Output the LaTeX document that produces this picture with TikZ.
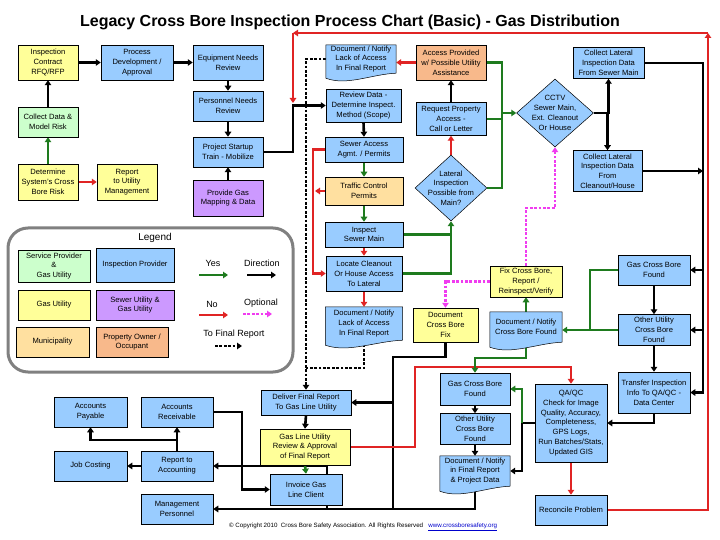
\documentclass[tikz,border=0pt]{standalone}
\usepackage{fontspec}
\setmainfont{Liberation Sans}
\usetikzlibrary{arrows.meta,shapes.geometric,calc}
\definecolor{cblue}{HTML}{99CCFF}
\definecolor{cyellow}{HTML}{FFFF99}
\definecolor{cgreen}{HTML}{CCFFCC}
\definecolor{cpurple}{HTML}{CC99FF}
\definecolor{clorange}{HTML}{FFE0A0}
\definecolor{csalmon}{HTML}{F8B98B}
\definecolor{cdgreen}{HTML}{1E7B1E}
\definecolor{cred}{HTML}{E02424}
\definecolor{cmag}{HTML}{F03CF0}
\definecolor{cgray}{HTML}{808080}
\definecolor{clink}{HTML}{0000CC}
\pgfdeclarelayer{bgl}
\pgfdeclarelayer{docl}
\pgfsetlayers{bgl,docl,main}
\newcommand\boxfnt{\fontsize{7.6}{9.8}\selectfont}
\newcommand\docshp[1]{\begin{pgfonlayer}{docl}\draw[fill=cblue, line width=0.5pt] (#1.north west) -- (#1.north east) -- (#1.south east) .. controls ($(#1.south east)!0.35!(#1.south west)+(0,1)$) and ($(#1.south east)!0.7!(#1.south west)+(0,13)$) .. ($(#1.south west)+(0,5)$) -- cycle;\end{pgfonlayer}}
\begin{document}
\begin{tikzpicture}[x=1pt,y=-1pt,
  bx/.style={draw=black, line width=0.5pt, inner sep=0.5pt, align=center, font=\boxfnt, text=black},
  bl/.style={bx, fill=cblue},
  yl/.style={bx, fill=cyellow},
  gr/.style={bx, fill=cgreen},
  pu/.style={bx, fill=cpurple},
  lo/.style={bx, fill=clorange},
  sa/.style={bx, fill=csalmon},
  sz/.style 2 args={minimum width=#1pt, minimum height=#2pt},
  dm/.style={diamond, draw=black, line width=0.5pt, fill=cblue, inner sep=0pt},
  dtx/.style={inner sep=0.5pt, align=center, font=\boxfnt},
  ln/.style={line width=2.6pt},
  con/.style={ln, -{Triangle[length=5pt,width=6.5pt]}},
  blk/.style={con, draw=black},
  blkl/.style={ln, draw=black},
  yes/.style={con, draw=cdgreen, -{Triangle[length=5pt,width=6.5pt,fill=cdgreen]}},
  yesl/.style={ln, draw=cdgreen},
  no/.style={con, draw=cred},
  nol/.style={ln, draw=cred},
  fin/.style={con, draw=black, dash pattern=on 2.8pt off 1.6pt},
  finl/.style={ln, draw=black, dash pattern=on 2.8pt off 1.6pt},
  opt/.style={con, draw=cmag, dash pattern=on 2.8pt off 1.6pt},
  lgt/.style={font=\fontsize{9}{11}\selectfont, inner sep=0pt}
]
\useasboundingbox (0,0) rectangle (720,540);
\begin{pgfonlayer}{bgl}
\fill[white] (0,0) rectangle (720,540);
\end{pgfonlayer}

% title
\node[font=\fontsize{16}{18}\selectfont\bfseries] (title) at (350,22) {Legacy Cross Bore Inspection Process Chart (Basic) - Gas Distribution};

% column 1-2
\node[yl, sz={60}{35}] (rfq) at (48,62.5) {Inspection\\Contract\\RFQ/RFP};
\node[bl, sz={72}{35}] (procdev) at (137,62.5) {Process\\Development /\\Approval};
\node[bl, sz={70}{35}] (equip) at (228,62.5) {Equipment Needs\\Review};
\node[gr, sz={60}{30}] (collect) at (48,122) {Collect Data \&\\Model Risk};
\node[bl, sz={70}{30}] (personnel) at (228,106) {Personnel Needs\\Review};
\node[bl, sz={70}{30}] (startup) at (228,152) {Project Startup\\Train - Mobilize};
\node[pu, sz={70}{36}] (mapping) at (228,198) {Provide Gas\\Mapping \& Data};
\node[yl, sz={60}{36}] (determine) at (48,182) {Determine\\System's Cross\\Bore Risk};
\node[yl, sz={60}{36}] (report) at (127,182) {Report\\to Utility\\Management};

% column 3
\node[dtx, sz={70}{28}] (doc1) at (361,59) {Document / Notify\\Lack of Access\\In Final Report};
\docshp{doc1}
\node[bl, sz={75}{33}] (review) at (363.5,105.5) {Review Data -\\Determine Inspect.\\Method (Scope)};
\node[bl, sz={78}{25}] (sewer) at (364,149.5) {Sewer Access\\Agmt. / Permits};
\node[lo, sz={78}{28}] (traffic) at (364,191) {Traffic Control\\Permits};
\node[bl, sz={78}{25}] (inspect) at (364,234.5) {Inspect\\Sewer Main};
\node[bl, sz={76}{35}] (locate) at (364,273.5) {Locate Cleanout\\Or House Access\\To Lateral};
\node[dtx, sz={77}{33}] (doc2) at (364,323.5) {Document / Notify\\Lack of Access\\In Final Report};
\docshp{doc2}

% column 4
\node[sa, sz={70}{35}] (access) at (451,62.5) {Access Provided\\w/ Possible Utility\\Assistance};
\node[bl, sz={70}{33}] (request) at (451,119) {Request Property\\Access -\\Call or Letter};
\node[dm, sz={72}{66}] (lateral) at (451,188) {};
\node[dtx] (lateralt) at (451,188) {Lateral\\Inspection\\Possible from\\Main?};
\node[yl, sz={65}{34}] (fix2) at (445.5,325) {Document\\Cross Bore\\Fix};

% column 5
\node[dm, sz={77}{68}] (cctv) at (555,113) {};
\node[dtx] (cctvt) at (555,113) {CCTV\\Sewer Main,\\Ext. Cleanout\\Or House};
\node[yl, sz={72}{31}] (fix) at (526,281.5) {Fix Cross Bore,\\Report /\\Reinspect/Verify};
\node[dtx, sz={72}{30}] (doccb) at (526,327) {Document / Notify\\Cross Bore Found};
\docshp{doccb}
\node[bl, sz={70}{32}] (lgcb) at (475,389) {Gas Cross Bore\\Found};
\node[bl, sz={70}{31}] (louc) at (475,429) {Other Utility\\Cross Bore\\Found};
\node[dtx, sz={70}{30}] (docfinal) at (475,471) {Document / Notify\\in Final Report\\\& Project Data};
\docshp{docfinal}
\node[bl, sz={72}{78}] (qaqc) at (571,423) {QA/QC\\Check for Image\\Quality, Accuracy,\\Completeness,\\GPS Logs,\\Run Batches/Stats,\\Updated GIS};
\node[bl, sz={72}{30}] (reconcile) at (571,510) {Reconcile Problem};

% column 6
\node[bl, sz={71}{31}] (colsm) at (608.5,63) {Collect Lateral\\Inspection Data\\From Sewer Main};
\node[bl, sz={69}{41}] (colch) at (607.5,171) {Collect Lateral\\Inspection Data\\From\\Cleanout/House};
\node[bl, sz={72}{30}] (gcb) at (654,270) {Gas Cross Bore\\Found};
\node[bl, sz={72}{31}] (ouc) at (654,330) {Other Utility\\Cross Bore\\Found};
\node[bl, sz={72}{41}] (transfer) at (654,392.5) {Transfer Inspection\\Info To QA/QC -\\Data Center};

% bottom left
\node[bl, sz={73}{30}] (ap) at (90.5,412) {Accounts\\Payable};
\node[bl, sz={72}{30}] (ar) at (177,412) {Accounts\\Receivable};
\node[bl, sz={73}{30}] (jc) at (90.5,466) {Job Costing};
\node[bl, sz={72}{30}] (rta) at (177,466) {Report to\\Accounting};
\node[bl, sz={72}{30}] (mp) at (177,509) {Management\\Personnel};
\node[bl, sz={90}{25}] (deliver) at (306,402.5) {Deliver Final Report\\To Gas Line Utility};
\node[yl, sz={90}{36}] (review2) at (305,447) {Gas Line Utility\\Review \& Approval\\of Final Report};
\node[bl, sz={72}{31}] (invoice) at (306,489.5) {Invoice Gas\\Line Client};

% legend
\draw[cgray, line width=3pt, rounded corners=20pt] (8,228) rectangle (293,372);
\node[font=\fontsize{10}{12}\selectfont] (legt) at (155,238) {Legend};
\node[gr, sz={72}{32}] (lg1) at (54,266) {Service Provider\\\&\\Gas Utility};
\node[bl, sz={78}{34}] (lg2) at (135,265) {Inspection Provider};
\node[yl, sz={72}{30}] (lg3) at (54,305) {Gas Utility};
\node[pu, sz={78}{30}] (lg4) at (135,305) {Sewer Utility \&\\Gas Utility};
\node[lo, sz={73}{30}] (lg5) at (52.5,342) {Municipality};
\node[sa, sz={72}{30}] (lg6) at (132,342) {Property Owner /\\Occupant};
\node[lgt] (lyes) at (213,263) {Yes};
\node[lgt] (ldir) at (262,263) {Direction};
\node[lgt] (lno) at (212,304) {No};
\node[lgt] (lopt) at (261,303) {Optional};
\node[lgt] (lfin) at (234,334) {To Final Report};
\coordinate (ly1) at (199,275); \coordinate (ly2) at (228,275);
\coordinate (ld1) at (247,275); \coordinate (ld2) at (276,275);
\coordinate (ln1) at (199,315); \coordinate (ln2) at (228,315);
\coordinate (lo1) at (243,314); \coordinate (lo2) at (272,314);
\coordinate (lf1) at (215,346); \coordinate (lf2) at (242,346);
\draw[yes] (ly1) -- (ly2);
\draw[blk] (ld1) -- (ld2);
\draw[no] (ln1) -- (ln2);
\draw[opt] (lo1) -- (lo2);
\draw[fin] (lf1) -- (lf2);

% copyright
\node[font=\fontsize{6.2}{7}\selectfont, anchor=west, inner sep=0pt] (copy) at (229,527) {\textcopyright\ Copyright 2010 \ Cross Bore Safety Association. All Rights Reserved \ \ \textcolor{clink}{\underline{www.crossboresafety.org}}};

% connectors
\begin{pgfonlayer}{bgl}
% black
\draw[blk] (rfq.east) -- (procdev.west);
\draw[blk] (procdev.east) -- (equip.west);
\draw[blk] (collect.north) -- (rfq.south);
\draw[blk] (equip.south) -- (personnel.north);
\draw[blk] (personnel.south) -- (startup.north);
\draw[blk] (mapping.north) -- (startup.south);
\draw[blk] (startup.east) -- (293,152) -- (293,105.5) -- (review.west);
\draw[blk] (review.south) -- (sewer.north);
\draw[blk] (request.north) -- (access.south);
\draw[blk] (cctv.east) -| (colsm.south);
\draw[blk] (cctv.east) -| (colch.north);
\draw[blk] (colsm.east) -- (703,63) -- (703,392.5) -- (transfer.east);
\draw[blk] (703,270) -- (gcb.east);
\draw[blk] (703,330) -- (ouc.east);
\draw[blk] (colch.east) -- (703,171);
\draw[blk] (gcb.south) -- (ouc.north);
\draw[blk] (ouc.south) -- (transfer.north);
\draw[blk] (transfer.south) -- (654,423) -- (qaqc.east);
\draw[blk] (qaqc.west) -- (522,423) -- (522,471) -- (docfinal.east);
\draw[blk] (lgcb.south) -- (louc.north);
\draw[blk] (louc.south) -- (docfinal.north);
\draw[blk] (docfinal.south) |- (mp.east);
\draw[blkl] (fix2.south) -- (445.5,357) -- (393,357) -- (393,509);
\draw[blk] (393,402.5) -- (deliver.east);
\draw[blk] (deliver.south) -- (review2.north);
\draw[blk] (327,509) -- (327,466) -- (rta.east);
\draw[blk] (ar.east) -- (242,412) -- (242,489.5) -- (invoice.west);
\draw[blk] (rta.north) -- (ar.south);
\draw[blk] (177,440) -| (ap.south);
\draw[blk] (rta.west) -- (jc.east);
% dotted to final report
\draw[fin] (doc1.west) -| (deliver.north);
\draw[finl] (doc2.south) -- (364,368) -- (306,368);
% red
\draw[no] (determine.east) -- (report.west);
\draw[no] (inspect.south) -- (locate.north);
\draw[no] (locate.south) -- (doc2.north);
\draw[no] (sewer.west) -- (313,149.5) -- (313,273.5) -- (locate.west);
\draw[no] (traffic.west) -- (315,191);
\draw[no] (lateral.north) -- (request.south);
\draw[no] (access.west) -- (access.west -| doc1.east);
\draw[no] (review2.east) -- (415,447) -- (415,367) -- (571,367) -- (qaqc.north);
\draw[no] (qaqc.south) -- (reconcile.north);
\draw[no] (reconcile.east) -- (708,510) -- (708,33);
\draw[no] (708,33) -- (293,33);
\draw[no] (293,33) -- (293,103);
% green
\draw[yes] (determine.north) -- (collect.south);
\draw[yes] (sewer.south) -- (traffic.north);
\draw[yes] (traffic.south) -- (inspect.north);
\draw[yesl] (inspect.east) -- (451,234.5);
\draw[yes] (locate.east) -- (451,273.5) -- (lateral.south);
\draw[yesl] (access.east) -- (502,62.5) -- (502,188) -- (lateral.east);
\draw[yes] (502,113) -- (cctv.west);
\draw[yesl] (request.east) -- (502,119);
\draw[yes] (doccb.north) -- (fix.south);
\draw[yesl] (gcb.west) -- (590,270) -- (590,330);
\draw[yes] (ouc.west) -- (ouc.west -| doccb.east);
\draw[yes] (doccb.south) -- (526,358) -- (475,358) -- (lgcb.north);
\draw[yes] (522,423) -- (522,389) -- (lgcb.east);
\draw[yes] (review2.south) -- (invoice.north);
% optional
\draw[opt] (fix.north) -- (526,208) -- (555,208) -- (cctv.south);
\draw[opt] (fix.west) -| (fix2.north);
\end{pgfonlayer}
\end{tikzpicture}
\end{document}
